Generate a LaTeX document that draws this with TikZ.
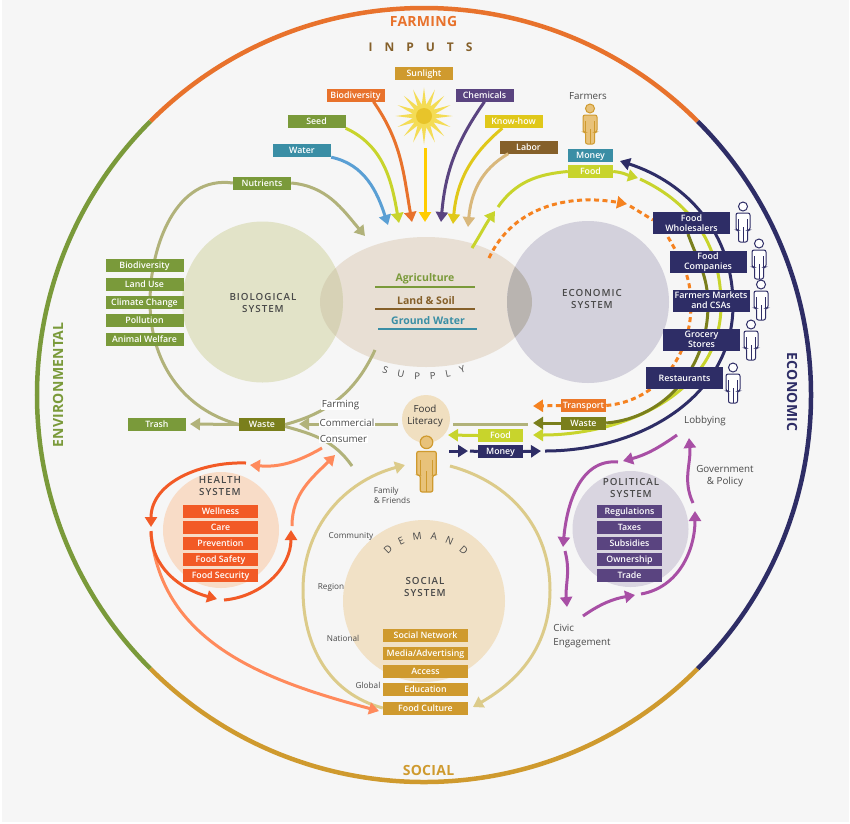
\documentclass[tikz,border=0pt]{standalone}
\usepackage{fontspec}
\setmainfont{Open Sans}
\newfontfamily\semifont{Open Sans Semibold}
\usepackage{xcolor}
\usepackage{tikz}
\usetikzlibrary{arrows.meta,shapes.geometric,decorations.text}

\definecolor{BgGray}{HTML}{F6F6F6}
\definecolor{OrangeC}{HTML}{E8722C}
\definecolor{GreenC}{HTML}{7A9A3A}
\definecolor{NavyC}{HTML}{2E2D66}
\definecolor{GoldC}{HTML}{CF9A2E}
\definecolor{TealC}{HTML}{3A8EA5}
\definecolor{PurpleC}{HTML}{5A4480}
\definecolor{YellowC}{HTML}{E0C81A}
\definecolor{BrownC}{HTML}{85602A}
\definecolor{LimeC}{HTML}{C8D42C}
\definecolor{OliveC}{HTML}{7A7F1C}
\definecolor{SageC}{HTML}{B1B27A}
\definecolor{TanC}{HTML}{DCCB8A}
\definecolor{SkinC}{HTML}{D9B87C}
\definecolor{BlueC}{HTML}{5A9FD4}
\definecolor{SunC}{HTML}{FFCC00}
\definecolor{RedC}{HTML}{F25A26}
\definecolor{SalmonC}{HTML}{FF8A5C}
\definecolor{DashC}{HTML}{F58220}
\definecolor{MagentaC}{HTML}{A84FA5}
\definecolor{TextC}{HTML}{4A4A4A}
\definecolor{AgriC}{HTML}{E8DFD4}
\definecolor{BioC}{HTML}{E2E3C8}
\definecolor{BioAgriC}{HTML}{D7D2B6}
\definecolor{EconC}{HTML}{D3D1DC}
\definecolor{EconAgriC}{HTML}{B9B4B0}
\definecolor{SocialC}{HTML}{F1E1C6}
\definecolor{HealthC}{HTML}{F8DCC7}
\definecolor{PoliticalC}{HTML}{D9D5E0}
\definecolor{LiteracyC}{HTML}{F0DFC0}
\definecolor{SkinFillC}{HTML}{E8C27A}
\definecolor{RayC}{HTML}{F4DC55}
\definecolor{DiscC}{HTML}{E8C42A}

\tikzset{
  box/.style={minimum width=58pt,minimum height=13pt,inner sep=0pt,text=white,
              text height=7.8pt,text depth=1.6pt,
              font=\semifont\fontsize{8.8}{10}\selectfont},
  navybox/.style={fill=NavyC,minimum width=77pt,minimum height=22pt,inner sep=0pt,
              text=white,align=center,font=\semifont\fontsize{8.9}{10}\selectfont},
  label/.style={inner sep=0pt,text=TextC,font=\fontsize{9.8}{11.5}\selectfont,align=center},
  small label/.style={label,font=\fontsize{8.2}{10}\selectfont},
  sys title/.style={inner sep=0pt,text=TextC,align=center,
              font=\semifont\fontsize{9.8}{12}\selectfont\addfontfeature{LetterSpace=10}},
  ring/.style={line width=4.5pt},
  ring label/.style={inner sep=0pt,font=\fontsize{14}{16}\selectfont\bfseries\addfontfeature{LetterSpace=2}},
  line/.style={line width=3pt},
  arr/.style={line width=3pt,-{Triangle[length=10pt,width=12pt]}},
  dash line/.style={line width=3pt,DashC,dash pattern=on 5pt off 3.5pt},
  sys circle/.style={circle,inner sep=0pt},
  person/.pic={
    \path[pic actions] (0,-15.5) circle[radius=4.5pt];
    \path[pic actions,rounded corners=2pt] (-7,8) -- (-7,-9) -- (7,-9) -- (7,8) -- (4.5,8)
      -- (4.5,20) -- (-4.5,20) -- (-4.5,8) -- cycle;
    \path[pic actions,fill=none] (-4.5,-3) -- (-4.5,8) (4.5,-3) -- (4.5,8) (0,5) -- (0,20);
  }
}

\begin{document}
\begin{tikzpicture}[x=1pt,y=-1pt]
  \useasboundingbox (0,0) rectangle (850,823);
  \fill[white] (0,0) rectangle (850,823);
  \fill[BgGray] (2,0) rectangle (849,822);

  % outer ring
  \coordinate (OuterC) at (424,395);
  \foreach \col/\a/\b in {OrangeC/45/135,GreenC/135/225,GoldC/225/315,NavyC/315/405}
    \draw[ring,\col] (OuterC) ++(\a:387pt) arc[start angle=\a,end angle=\b,radius=387pt];

  \node[ring label,text=OrangeC] (TitleFarming) at (423.5,21) {FARMING};
  \node[ring label,text=GoldC] (TitleSocial) at (428.5,770) {SOCIAL};
  \node[ring label,text=NavyC,rotate=-90] (TitleEconomic) at (792,392) {ECONOMIC};
  \node[ring label,text=GreenC,rotate=90] (TitleEnv) at (58,385) {ENVIRONMENTAL};
  \node[inner sep=0pt,text=BrownC,font=\fontsize{12}{14}\selectfont\bfseries\addfontfeature{LetterSpace=100}] (TitleInputs) at (420.5,47) {INPUTS};

  % the systems
  \node[ellipse,fill=AgriC,minimum width=212pt,minimum height=130pt,inner sep=0pt] (Agri) at (426,302) {};
  \node[sys circle,fill=BioC,minimum size=161pt] (Bio) at (262.5,302) {};
  \node[sys circle,fill=EconC,minimum size=162pt] (Econ) at (588,302) {};
  \begin{scope}
    \clip (426,302) ellipse[x radius=106pt,y radius=65pt];
    \fill[BioAgriC] (262.5,302) circle[radius=80.5pt];
    \fill[EconAgriC] (588,302) circle[radius=81pt];
  \end{scope}
  \node[sys circle,fill=SocialC,minimum size=162pt] (Social) at (424,601) {};
  \node[sys circle,fill=HealthC,minimum size=116pt] (Health) at (221,530) {};
  \node[sys circle,fill=PoliticalC,minimum size=116pt] (Political) at (630.5,529) {};
  \node[sys circle,fill=LiteracyC,minimum size=48pt] (Literacy) at (426,419) {};

  \node[sys title] (TxtBio) at (263,303) {BIOLOGICAL\\SYSTEM};
  \node[sys title] (TxtEcon) at (592,299) {ECONOMIC\\SYSTEM};
  \node[sys title] (TxtSocial) at (425,587) {SOCIAL\\SYSTEM};
  \node[sys title] (TxtHealth) at (220,486) {HEALTH\\SYSTEM};
  \node[sys title] (TxtPolitical) at (631,488) {POLITICAL\\SYSTEM};

  % what grows on the land
  \tikzset{agri label/.style={inner sep=0pt,font=\fontsize{10.5}{12}\selectfont\bfseries}}
  \node[agri label,text=GreenC] (TxtAgri) at (425,279) {Agriculture};
  \node[agri label,text=BrownC] (TxtSoil) at (426,301) {Land \& Soil};
  \node[agri label,text=TealC] (TxtWater) at (428,321) {Ground Water};
  \foreach \col/\xa/\xb/\yy in {GreenC/375/475/287,BrownC/375/475/309,TealC/378/477/329}
    \draw[line width=2pt,\col] (\xa,\yy) -- (\xb,\yy);

  \path[decorate,decoration={text along path,text align={fit to path},
    text={|\fontsize{9.5}{11}\selectfont\color{TextC}|S U P P L Y}}]
    (382,372) .. controls (410,382) and (440,382) .. (466,372);
  \path[decorate,decoration={text along path,text align={fit to path},
    text={|\fontsize{10}{12}\selectfont\color{TextC}|D E M A N D}}]
    (388,555) .. controls (406,534) and (444,534) .. (464,555);

  % free ends of the connectors
  \foreach \n/\x/\y in {TipWater/388/225,TipSeed/399/223,TipBio/412/222,SunEnd/425/148,TipSun/425/222,
      TipChem/441/222,TipKnow/453/224,TipLabor/468/227,TipNutr/365/236,
      AgriOut/472/248,TipFood/495/211,FoodOn/498/207,TipFoodTop/638/178,LimeOn/640/179,LimeSide/721/305,
      TipLimeIn/533/435,NavyStart/545/451,NavySide/733/305,TipNavy/620/161,
      DashStart/489/258,TipDash/627/204,DashOn/630/206,DashSide/691/305,DashIn/653/220,
      DashBack/668/237,TipTransport/533/406,OliveStart/688/234,OliveSide/708/305,TipWaste/533/423,
      BioLeft/150/302,LitWest/398/424,TipWasteIn/299/424,LitEast/453/424,LitEastEnd/528/424,
      BioEnd/375/350,BioTail/352/466,TipTrash/190/424,
      TipFoodLit/448/435,MoneyIn/449/451,TipMoneyIn/468/451,MoneyOn/470/451,TipMoneyOut/541/451,
      SocLeft/303/590,TipSocL/405/465,SocRStart/450/466,SocRight/550/590,TipSocR/473/707,
      HA/246/463,HLeft/151/527,HB/151/531,HBot/217/599,HC/224/600,HEnd/291/530,
      HD/292/526,HTip/335/455,HE/322/448,HTipE/250/465,HF/151/532,TipCulture/379/711,
      PA/677/435,PTipA/623/461,PB/618/462,PTipB/563/547,PC/565/551,PTipC/567/607,
      PD/583/616,PTipD/635/595,PE/641/594,PTipE/695/511,PF/693/503,PTipF/689/438}
    \coordinate (\n) at (\x,\y);

  % inputs
  \node[box,fill=OrangeC] (BoxBiodiv) at (355.5,95) {Biodiversity};
  \node[box,fill=GoldC] (BoxSun) at (424,73.5) {Sunlight};
  \node[box,fill=GreenC] (BoxSeed) at (316.5,121.5) {Seed};
  \node[box,fill=TealC] (BoxWaterIn) at (302,150.5) {Water};
  \node[box,fill=GreenC] (BoxNutr) at (262,183) {Nutrients};
  \node[box,fill=PurpleC] (BoxChem) at (484.5,95) {Chemicals};
  \node[box,fill=YellowC] (BoxKnow) at (513.5,121.5) {Know-how};
  \node[box,fill=BrownC] (BoxLabor) at (528.5,147) {Labor};

  \draw[arr,BlueC] (BoxWaterIn.south east) to[out=-12,in=108] (TipWater);
  \draw[arr,LimeC] (BoxSeed.south east) to[out=-25,in=100] (TipSeed);
  \draw[arr,OrangeC] ([xshift=18pt]BoxBiodiv.south) to[out=-55,in=100] (TipBio);
  \draw[arr,SunC] (SunEnd) -- (TipSun);
  \draw[arr,PurpleC] (BoxChem.south) to[out=-125,in=85] (TipChem);
  \draw[arr,YellowC] ([xshift=18pt]BoxKnow.south west) to[out=-140,in=85] (TipKnow);
  \draw[arr,SkinC] ([xshift=9pt]BoxLabor.south west) to[out=-150,in=85] (TipLabor);
  \draw[arr,SageC] (BoxNutr.east) to[out=-5,in=130] (TipNutr);

  \node[star,star points=16,star point ratio=2.5,fill=RayC,minimum size=57pt,inner sep=0pt] (SunStar) at (424,116) {};
  \node[sys circle,fill=DiscC,minimum size=16pt] (SunDisc) at (424,116) {};

  % biological loop
  \node[box,fill=OliveC,minimum width=46pt] (BoxWasteL) at (262,424.5) {Waste};
  \draw[line,SageC] (BoxNutr.west) to[out=172,in=90] (BioLeft) to[out=-90,in=165] (BoxWasteL.west);
  \draw[line,SageC] (BoxWasteL.east) to[out=15,in=-115] (BioEnd);
  \draw[line,SageC] ([yshift=-2pt]BoxWasteL.east) to[out=-15,in=125] (BioTail);
  \node[box,fill=GreenC] (BoxTrash) at (157,424.5) {Trash};
  \draw[arr,SageC] (BoxWasteL.west) -- (TipTrash);
  \draw[arr,SageC] (LitWest) -- (TipWasteIn);
  \draw[line,SageC] (LitEast) -- (LitEastEnd);

  \foreach \t/\n/\yy in {Biodiversity/ListA/265.5,Land Use/ListB/284,Climate Change/ListC/302,Pollution/ListD/320.5,Animal Welfare/ListE/339}
    \node[box,fill=GreenC,minimum width=78pt] (\n) at (144.5,\yy) {\t};

  \foreach \n/\xx/\yy/\t in {LblFarming/340.5/405/Farming,LblCommercial/347/423/Commercial,LblConsumer/343.5/439/Consumer}
    \node[label,fill=white,inner sep=0.5pt] (\n) at (\xx,\yy) {\t};

  % economic loops
  \draw[line,NavyC] (NavyStart) to[out=0,in=-90] (NavySide);
  \draw[arr,NavyC] (NavySide) to[out=90,in=-18] (TipNavy);
  \node[box,fill=TealC,minimum width=45pt] (BoxMoneyTop) at (590.5,155.5) {Money};
  \node[box,fill=LimeC,minimum width=45pt] (BoxFoodTop) at (590.5,171.5) {Food};
  \draw[arr,LimeC] (AgriOut) to[out=58,in=-125] (TipFood);
  \draw[line,LimeC] (FoodOn) to[out=55,in=185] (BoxFoodTop.west);
  \draw[arr,LimeC] (BoxFoodTop.east) to[out=-5,in=165] (TipFoodTop);
  \draw[line,LimeC] (LimeOn) to[out=-25,in=90] (LimeSide);
  \draw[arr,LimeC] (LimeSide) to[out=-90,in=0] (TipLimeIn);

  \node[box,fill=OrangeC!70!DashC,minimum width=45pt] (BoxTransport) at (583.5,405.5) {Transport};
  \node[box,fill=OliveC,minimum width=45pt] (BoxWasteR) at (583.5,423) {Waste};
  \draw[line,OliveC] (OliveStart) to[out=-70,in=90] (OliveSide) to[out=-90,in=5] (BoxWasteR.east);
  \draw[arr,OliveC] (BoxWasteR.west) -- (TipWaste);
  \draw[dash line,-{Triangle[length=10pt,width=12pt]}] (DashStart) to[out=65,in=170] (TipDash);
  \draw[dash line] (DashOn) -- (DashIn);
  \draw[dash line] (DashBack) to[out=-60,in=90] (DashSide) to[out=-90,in=5] (BoxTransport.east);
  \draw[dash line,-{Triangle[length=10pt,width=12pt]}] (BoxTransport.west) -- (TipTransport);

  \node[navybox] (BoxWholesalers) at (691.5,223) {Food\\Wholesalers};
  \node[navybox] (BoxCompanies) at (708,262) {Food\\Companies};
  \node[navybox] (BoxMarkets) at (711,300.5) {Farmers Markets\\and CSAs};
  \node[navybox] (BoxGrocery) at (701.5,339.5) {Grocery\\Stores};
  \node[navybox] (BoxRestaurants) at (684.5,378) {Restaurants};
  \foreach \px/\py in {743/222,759/259,761/300,751/340,733/383}
    \pic[draw=NavyC,fill=white,line width=1pt] at (\px,\py) {person};
  \pic[draw=GoldC,fill=SkinFillC,line width=1pt] at (590,124) {person};
  \node[label] (LblFarmers) at (588,96) {Farmers};
  \node[label] (LblLobby) at (705,421) {Lobbying};

  % food and money at the consumer
  \node[box,fill=LimeC,minimum width=45pt] (BoxFoodMid) at (500.5,435.5) {Food};
  \node[box,fill=NavyC,minimum width=45pt] (BoxMoneyMid) at (500.5,451.5) {Money};
  \draw[arr,LimeC] (BoxFoodMid.west) -- (TipFoodLit);
  \draw[arr,NavyC] (MoneyIn) -- (TipMoneyIn);
  \draw[line,NavyC] (MoneyOn) -- (BoxMoneyMid.west);
  \draw[arr,NavyC] (BoxMoneyMid.east) -- (TipMoneyOut);
  \node[label,text=black!80] (TxtLiteracy) at (425,416) {Food\\Literacy};
  \pic[draw=GoldC,fill=SkinFillC,line width=1.2pt,scale=1.4] at (426.5,464) {person};

  % social loop
  \foreach \n/\yy/\t in {SocA/635/Social Network,SocB/653/{Media/Advertising},SocC/671/Access,SocD/689.5/Education,SocE/708/Food Culture}
    \node[box,fill=GoldC,minimum width=85pt] (\n) at (425.5,\yy) {\t};
  \draw[line,TanC] (SocE.west) to[out=165,in=-90] (SocLeft);
  \draw[arr,TanC] (SocLeft) to[out=90,in=195] (TipSocL);
  \draw[line,TanC] (SocRStart) to[out=-15,in=90] (SocRight);
  \draw[arr,TanC] (SocRight) to[out=-90,in=30] (TipSocR);
  \node[small label,align=left] (LblFamily) at (392,495) {Family\\\& Friends};
  \node[small label] (LblCommunity) at (351,536) {Community};
  \node[small label] (LblRegion) at (331,587) {Region};
  \node[small label] (LblNational) at (343,638) {National};
  \node[small label] (LblGlobal) at (368,685) {Global};

  % health loop
  \foreach \n/\yy/\t in {HeaA/511/Wellness,HeaB/527/Care,HeaC/543/Prevention,HeaD/559.5/Food Safety,HeaE/575.5/Food Security}
    \node[box,fill=RedC,minimum width=75pt] (\n) at (220.5,\yy) {\t};
  \draw[arr,SalmonC] (HF) to[out=-85,in=165] (TipCulture);
  \draw[arr,RedC] (HA) to[out=178,in=90] (HLeft);
  \draw[arr,RedC] (HB) to[out=-90,in=165] (HBot);
  \draw[arr,RedC] (HC) to[out=5,in=-90] (HEnd);
  \draw[arr,SalmonC] (HD) to[out=90,in=-135] (HTip);
  \draw[arr,SalmonC] (HE) to[out=-150,in=-5] (HTipE);

  % political loop
  \foreach \n/\yy/\t in {PolA/511.5/Regulations,PolB/527.5/Taxes,PolC/543.5/Subsidies,PolD/559.5/Ownership,PolE/575.5/Trade}
    \node[box,fill=PurpleC,minimum width=65pt] (\n) at (629.5,\yy) {\t};
  \foreach \a/\b/\o/\i in {PA/PTipA/-145/15,PB/PTipB/175/85,PC/PTipC/-75/95,PD/PTipD/35/190,PE/PTipE/10/-90,PF/PTipF/115/-85}
    \draw[arr,MagentaC] (\a) to[out=\o,in=\i] (\b);
  \node[label] (LblGov) at (725,476) {Government\\\& Policy};
  \node[label,align=left,font=\fontsize{9.8}{14}\selectfont] (LblCivic) at (582,636) {Civic\\Engagement};
\end{tikzpicture}
\end{document}
